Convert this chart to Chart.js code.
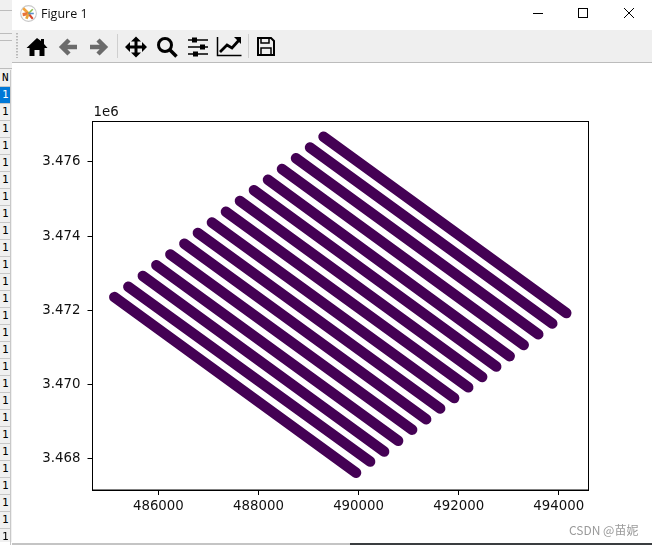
<!DOCTYPE html>
<html>
<head>
<meta charset="utf-8">
<script src="https://cdn.jsdelivr.net/npm/chart.js@4"></script>
<style>
html, body { margin: 0; padding: 0; background: #fff; overflow: hidden; }
#wrap { position: relative; width: 652px; height: 545px; overflow: hidden; font-family: "Open Sans", sans-serif; }
#wrap > * { position: absolute; }
#chart { left: 0; top: 0; }
#strip { left: 0; top: 0; width: 12px; height: 542px; background: #f0f0f0; }
.rule { position: absolute; left: 0; width: 12px; height: 1px; background: #bdbdbd; }
.cell { position: absolute; left: 0; width: 11px; height: 17px; border-bottom: 1px solid #c8c8c8; border-right: 1px solid #c8c8c8; font: 11px "DejaVu Sans Mono", monospace; line-height: 16px; color: #000; padding-left: 2px; box-sizing: border-box; overflow: hidden; }
#title { left: 41px; top: 5px; font-size: 12.5px; color: #111; line-height: 18px; }
#toolbar { left: 12px; top: 30px; width: 640px; height: 32px; background: #efefef; border-bottom: 1px solid #bcbcbc; }
#toolbar svg { position: absolute; left: 0; top: 0; }
#winbtns { left: 520px; top: 0; }
#bottomL { left: 12px; top: 543px; width: 338px; height: 2px; background: #c4c4c4; }
#bottomR { left: 350px; top: 543px; width: 302px; height: 2px; background: #3a3d40; }
#mark { left: 569px; top: 522px; font: 12px "Noto Sans CJK SC", "Noto Sans", sans-serif; color: #9a9a9a; line-height: 16px; }
</style>
</head>
<body>
<div id="wrap">
  <canvas id="chart" width="652" height="545"></canvas>
  <div id="strip"></div>
  <svg style="left:20px;top:5px" width="17" height="17" viewBox="0 0 16 16">
    <circle cx="8" cy="8" r="7.4" fill="#fff" stroke="#c9c9c9"/>
    <path d="M8 8L3 3" stroke="#f2a33a" stroke-width="2.5"/>
    <path d="M8 8L2.500 9" stroke="#e8743b" stroke-width="3"/>
    <path d="M8 8L12 13" stroke="#d9472b" stroke-width="2"/>
    <path d="M8 8L6 13" stroke="#e8a33a" stroke-width="2.500"/>
    <path d="M8 8L12 4" stroke="#8cbf4b" stroke-width="1.500"/>
    <path d="M8 8L13 8" stroke="#5b8fc7" stroke-width="1.500"/>
  </svg>
  <div id="title">Figure 1</div>
  <svg id="winbtns" width="132" height="28" viewBox="0 0 132 28">
    <path d="M13 13.5H23" stroke="#000" stroke-width="1"/>
    <rect x="58.5" y="8.5" width="9" height="9" fill="none" stroke="#000"/>
    <path d="M104 8L114 18M114 8L104 18" stroke="#000" stroke-width="1"/>
  </svg>
  <div id="toolbar">
    <svg width="300" height="32" viewBox="0 0 300 32">
      <path d="M5 3v25" stroke="#a8a8a8" stroke-width="1.500" stroke-dasharray="1.500 1.500"/>
      <path d="M25 8L14.500 18h3v8h5v-6h5v6h5v-8h3L32 14V9h-3v2z" fill="#000"/>
      <path d="M65 17H50M57 10l-7 7 7 7" fill="none" stroke="#6b6b6b" stroke-width="4.500"/>
      <path d="M78 17H93M86 10l7 7-7 7" fill="none" stroke="#6b6b6b" stroke-width="4.500"/>
      <path d="M105.500 4v24" stroke="#cfcfcf"/>
      <path d="M124 10v14M117 17h14" stroke="#000" stroke-width="3"/>
      <path d="M124 6.500l-5 5h10zM124 27.500l-5-5h10zM113 17l5-5v10zM135 17l-5-5v10z" fill="#000"/>
      <circle cx="153" cy="15" r="6.500" fill="none" stroke="#000" stroke-width="3"/>
      <path d="M158 20l6.500 6.500" stroke="#000" stroke-width="3.500"/>
      <path d="M176 10h20M176 17h20M176 24h20" stroke="#000" stroke-width="1.500"/>
      <rect x="180" y="7.500" width="5" height="5"/><rect x="188" y="14.500" width="5" height="5"/><rect x="181" y="21.500" width="5" height="5"/>
      <path d="M205.500 7v18.500h24" fill="none" stroke="#000" stroke-width="1.500"/>
      <path d="M208 22l7-7 5 3 8-9" fill="none" stroke="#000" stroke-width="2.800"/>
      <path d="M222 7h7v7z" fill="#000"/>
      <path d="M236.500 4v24" stroke="#cfcfcf"/>
      <path d="M246 8h13l3 3v14h-16z" fill="none" stroke="#000" stroke-width="2"/>
      <rect x="249" y="8" width="8" height="5" fill="none" stroke="#000" stroke-width="1.500"/>
      <rect x="249" y="18" width="10" height="7" fill="none" stroke="#000" stroke-width="1.500"/>
    </svg>
  </div>
  <div id="bottomL"></div>
  <div id="bottomR"></div>
  <div id="mark">CSDN @苗妮</div>
</div>
<script>
// one entry per track (y in units of 1e6)
const startX = [485120, 485400, 485690, 485960, 486240, 486520, 486790, 487070, 487350, 487630, 487910, 488190, 488470, 488750, 489030, 489300];
const startY = [3.47236, 3.47264, 3.47293, 3.47322, 3.47351, 3.47380, 3.47409, 3.47437, 3.47466, 3.47495, 3.47524, 3.47552, 3.47581, 3.47610, 3.47639, 3.47668];
const endX = [489950, 490230, 490510, 490790, 491070, 491350, 491630, 491910, 492190, 492470, 492750, 493020, 493300, 493590, 493870, 494150];
const endY = [3.46763, 3.46793, 3.46820, 3.46849, 3.46879, 3.46907, 3.46936, 3.46964, 3.46993, 3.47021, 3.47049, 3.47077, 3.47107, 3.47136, 3.47165, 3.47193];
const xTicks = [486000, 488000, 490000, 492000, 494000];
const yTicks = [3.468, 3.470, 3.472, 3.474, 3.476];
const offsetText = '1e6';

// left strip of the table behind the figure window
const strip = document.getElementById('strip');
[10, 33, 40, 68].forEach(function (y) {
    const r = document.createElement('div');
    r.className = 'rule';
    r.style.top = y + 'px';
    strip.appendChild(r);
});
for (let y = 70, i = 0; y < 540; y += 17, i++) {
    const c = document.createElement('div');
    c.className = 'cell';
    c.style.top = y + 'px';
    c.textContent = i === 0 ? 'N' : '1';
    if (i === 1) { c.style.background = '#0078d7'; c.style.color = '#fff'; }
    strip.appendChild(c);
}

const datasets = startX.map(function (x, i) {
    return {
        data: [{ x: x, y: startY[i] }, { x: endX[i], y: endY[i] }],
        showLine: true,
        borderColor: '#440154',
        borderWidth: 10.5,
        borderCapStyle: 'round',
        pointRadius: 0
    };
});

const axesFrame = {
    id: 'axesFrame',
    afterDraw: function (chart) {
        const a = chart.chartArea, c = chart.ctx;
        c.save();
        c.strokeStyle = '#000';
        c.lineWidth = 1;
        c.strokeRect(a.left, a.top, a.right - a.left, a.bottom - a.top);
        c.fillStyle = '#111';
        c.font = '13.33px "DejaVu Sans"';
        c.textAlign = 'left';
        c.textBaseline = 'alphabetic';
        c.fillText(offsetText, a.left + 1, a.top - 6);
        c.restore();
    }
};

new Chart(document.getElementById('chart'), {
    type: 'scatter',
    data: { datasets: datasets },
    plugins: [axesFrame],
    options: {
        responsive: false,
        animation: false,
        layout: { padding: { left: 0, right: 63.5, top: 121.5, bottom: 0 } },
        plugins: { legend: { display: false }, tooltip: { enabled: false } },
        scales: {
            x: {
                type: 'linear',
                min: 484684,
                max: 494594,
                afterBuildTicks: function (s) { s.ticks = xTicks.map(function (v) { return { value: v }; }); },
                afterFit: function (s) { s.height = 55; },
                grid: { drawOnChartArea: false, tickLength: 5, tickColor: '#000', tickWidth: 1 },
                border: { color: '#000', width: 1 },
                ticks: {
                    maxRotation: 0,
                    autoSkip: false,
                    padding: 4,
                    color: '#111',
                    font: { family: 'DejaVu Sans', size: 13.33 },
                    callback: function (v) { return String(v); }
                }
            },
            y: {
                type: 'linear',
                min: 3.467165,
                max: 3.47709,
                afterBuildTicks: function (s) { s.ticks = yTicks.map(function (v) { return { value: v }; }); },
                afterFit: function (s) { s.width = 92.5; },
                grid: { drawOnChartArea: false, tickLength: 5, tickColor: '#000', tickWidth: 1 },
                border: { color: '#000', width: 1 },
                ticks: {
                    autoSkip: false,
                    padding: 7,
                    color: '#111',
                    font: { family: 'DejaVu Sans', size: 13.33 },
                    callback: function (v) { return v.toFixed(3); }
                }
            }
        }
    }
});
</script>
</body>
</html>
